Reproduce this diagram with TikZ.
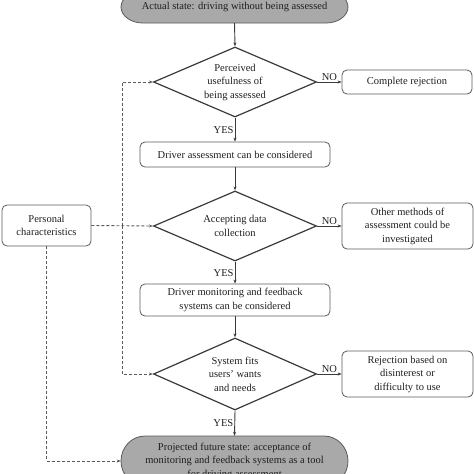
\documentclass[tikz,border=0pt]{standalone}
\usepackage{fontspec}
\setmainfont{Liberation Serif}
\usetikzlibrary{shapes.geometric,arrows.meta}
\definecolor{lineclr}{HTML}{3A3A3A}
\definecolor{boxclr}{HTML}{5A5A5A}
\definecolor{termfill}{HTML}{A9A9A9}
\definecolor{txtclr}{HTML}{1E1E1E}
\tikzset{
  every node/.style={font=\fontsize{10.5}{13.5}\selectfont, text=txtclr, align=center},
  procbox/.style={draw=boxclr, line width=0.8pt, rounded corners=5pt, inner sep=0pt},
  decision/.style={diamond, draw=lineclr, line width=1.2pt, inner sep=0pt, aspect=2.33,
    minimum width=163pt, minimum height=70pt},
  termtext/.style={draw=none, inner sep=0pt},
  termshape/.style={fill=termfill, draw=boxclr, line width=0.8pt},
  flow/.style={draw=lineclr, line width=0.9pt, -{Stealth[length=4pt,width=3pt]}},
  dflow/.style={draw=boxclr, line width=0.9pt, dash pattern=on 3pt off 2pt, -{Stealth[length=4pt,width=3pt]}},
  lbl/.style={inner sep=1pt}
}
\begin{document}
\begin{tikzpicture}[x=1pt,y=-1pt]
\useasboundingbox (0,0) rectangle (474,474);
% terminal shapes
\draw[termshape] (143,-9) -- (326,-9) arc[start angle=-90,end angle=90,x radius=22,y radius=16]
  -- (143,23) arc[start angle=90,end angle=270,x radius=22,y radius=16] -- cycle;
\draw[termshape] (145,436) -- (324,436) arc[start angle=-90,end angle=90,x radius=24,y radius=25]
  -- (145,486) arc[start angle=90,end angle=270,x radius=24,y radius=25] -- cycle;
\node[termtext, minimum width=227pt, minimum height=32pt] (top) at (234.5,7) {Actual state: driving without being assessed};
\node[termtext, minimum width=227pt, minimum height=50pt] (bot) at (234.5,461) {Projected future state: acceptance of\\monitoring and feedback systems as a tool\\for driving assessment};

\node[decision] (d1) at (235,82) {Perceived\\usefulness of\\being assessed};
\node[decision] (d2) at (235,226) {Accepting data\\collection};
\node[decision, minimum height=72pt] (d3) at (235,374) {System fits\\users' wants\\and needs};

\node[procbox, minimum width=130pt, minimum height=24pt] (rej1) at (407,82) {Complete rejection};
\node[procbox, minimum width=190pt, minimum height=25pt] (assess) at (235,154.5) {Driver assessment can be considered};
\node[procbox, minimum width=89pt, minimum height=41pt] (pers) at (46.5,225.5) {Personal\\characteristics};
\node[procbox, minimum width=131pt, minimum height=46pt] (other) at (407.5,226) {Other methods of\\assessment could be\\investigated};
\node[procbox, minimum width=190pt, minimum height=32pt] (monit) at (235,300) {Driver monitoring and feedback\\systems can be considered};
\node[procbox, minimum width=131pt, minimum height=46pt] (rej3) at (407.5,374) {Rejection based on\\disinterest or\\difficulty to use};

% main flow
\draw[flow] (top.south) -- (d1.north);
\draw[flow] (d1.south) -- node[lbl, left] {YES} (assess.north);
\draw[flow] (d1.east) -- node[lbl, above] {NO} (rej1.west);
\draw[flow] (assess.south) -- (d2.north);
\draw[flow] (d2.south) -- node[lbl, left] {YES} (monit.north);
\draw[flow] (d2.east) -- node[lbl, above] {NO} (other.west);
\draw[flow] (monit.south) -- (d3.north);
\draw[flow] (d3.east) -- node[lbl, above] {NO} (rej3.west);
\draw[flow] (d3.south) -- node[lbl, left] {YES} (bot.north);

% dashed influences
\coordinate (br) at (122,226);
\draw[dflow] (pers.east) -- (d2.west);
\draw[dflow] (br) |- (d1.west);
\draw[dflow] (br) |- (d3.west);
\draw[dflow] (pers.south) |- (bot.west);
\end{tikzpicture}
\end{document}
